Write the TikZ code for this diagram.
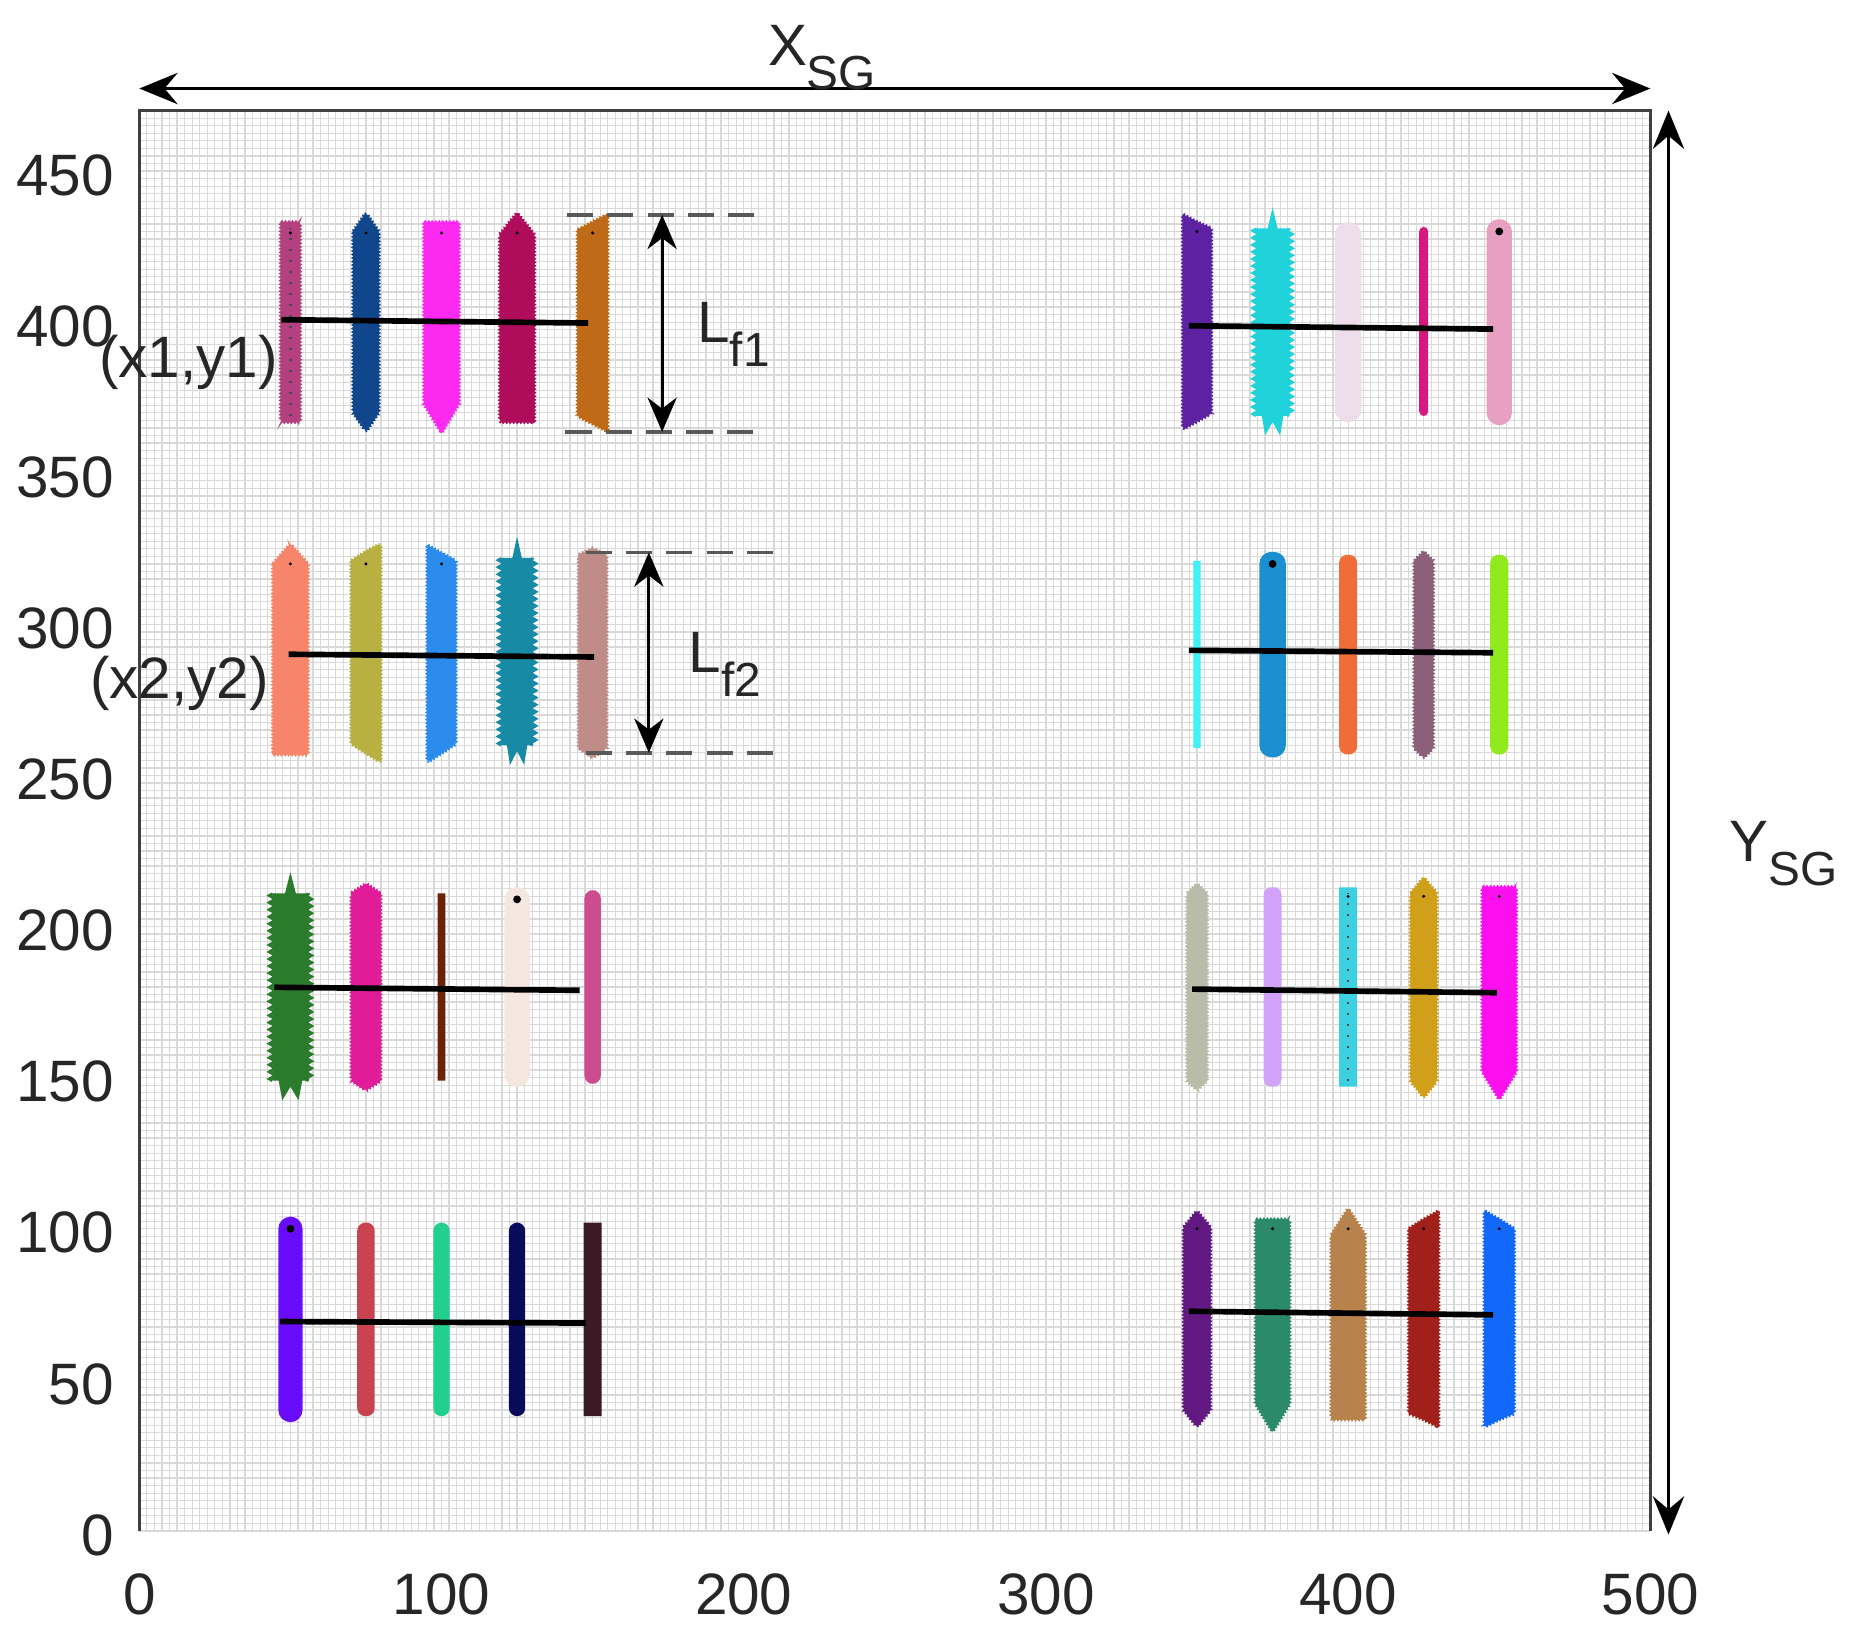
\documentclass[tikz,border=0pt]{standalone}
\usepackage{fontspec}
\setmainfont{Liberation Sans}
\usepackage{tikz}
\usetikzlibrary{arrows.meta,decorations.pathmorphing}
\tikzstyle{gridline}=[gray!30, line width=0.35pt]
\tikzstyle{frame}=[black!75, line width=0.9pt]
\tikzstyle{spanarrow}=[black, line width=1.1pt, {Stealth[length=3.8mm,width=3.1mm,inset=1.3mm]}-{Stealth[length=3.8mm,width=3.1mm,inset=1.3mm]}]
\tikzstyle{lenarrow}=[black, line width=0.8pt, {Stealth[length=3.4mm,width=2.9mm,inset=1.1mm]}-{Stealth[length=3.4mm,width=2.9mm,inset=1.1mm]}]
\tikzstyle{dimline}=[black!65, line width=1pt, dash pattern=on 2.6mm off 1.4mm]
\tikzstyle{rodline}=[black, line width=1.6pt]
\tikzstyle{jag}=[postaction={draw, line width=0.45pt, decorate, decoration={zigzag, segment length=0.35mm, amplitude=0.12mm}}]
\tikzstyle{spiky}=[line width=0.8pt, decorate, decoration={zigzag, segment length=0.7mm, amplitude=0.3mm}]
\tikzstyle{capM}=[rounded corners=1.2mm]
\tikzstyle{capS}=[rounded corners=0.8mm]
\tikzstyle{capT}=[rounded corners=0.45mm]
\tikzstyle{dotcol}=[black!70, line width=0.7pt, dash pattern=on 0.5pt off 2.6pt]
\tikzstyle{lab}=[font=\fontsize{16.5}{20}\selectfont, text=black!85, inner sep=0pt]
\newcommand{\lowsub}[1]{\raisebox{-2.4mm}{\fontsize{13.5}{14}\selectfont #1}}
% one fibre: x, half width, style, top left/mid/right, bottom left/mid/right
\newcommand{\fib}[9]{\fill[#3] ({#1-#2},#4) -- (#1,#5) -- ({#1+#2},#6) -- ({#1+#2},-#9) -- (#1,-#8) -- ({#1-#2},-#7) -- cycle;}
\newcommand{\starfib}[3]{%
  \fill[#3] ({#1-#2},31) -- ({#1-0.3*#2},31) -- (#1,38) -- ({#1+0.3*#2},31) -- ({#1+#2},31) -- ({#1+#2},-31) -- ({#1+0.65*#2},-31) -- ({#1+0.45*#2},-37.5) -- (#1,-33) -- ({#1-0.45*#2},-37.5) -- ({#1-0.65*#2},-31) -- ({#1-#2},-31) -- cycle;
  \draw[#3, spiky] ({#1-#2},-31) -- ({#1-#2},31);
  \draw[#3, spiky] ({#1+#2},-31) -- ({#1+#2},31);}
\definecolor{fibAa}{HTML}{B4407F}
\definecolor{fibAb}{HTML}{0F468C}
\definecolor{fibAc}{HTML}{FC2AF0}
\definecolor{fibAd}{HTML}{B00C5C}
\definecolor{fibAe}{HTML}{BF6A16}
\definecolor{fibBa}{HTML}{F7856A}
\definecolor{fibBb}{HTML}{B9B042}
\definecolor{fibBc}{HTML}{2B8CEE}
\definecolor{fibBd}{HTML}{178AA6}
\definecolor{fibBe}{HTML}{C08C88}
\definecolor{fibCa}{HTML}{2A7C2C}
\definecolor{fibCb}{HTML}{E01C98}
\definecolor{fibCc}{HTML}{6C2208}
\definecolor{fibCd}{HTML}{F5E6DF}
\definecolor{fibCe}{HTML}{CC4C92}
\definecolor{fibDa}{HTML}{6A0CFC}
\definecolor{fibDb}{HTML}{C8434F}
\definecolor{fibDc}{HTML}{22D08E}
\definecolor{fibDd}{HTML}{080A5A}
\definecolor{fibDe}{HTML}{3A1A24}
\definecolor{fibEa}{HTML}{5C22A2}
\definecolor{fibEb}{HTML}{20D2DA}
\definecolor{fibEc}{HTML}{EEDDEA}
\definecolor{fibEd}{HTML}{D8187E}
\definecolor{fibEe}{HTML}{E8A0C2}
\definecolor{fibFa}{HTML}{42F0F8}
\definecolor{fibFb}{HTML}{1A90D0}
\definecolor{fibFc}{HTML}{F06C38}
\definecolor{fibFd}{HTML}{8C5F7A}
\definecolor{fibFe}{HTML}{90EA1E}
\definecolor{fibGa}{HTML}{B8BCA8}
\definecolor{fibGb}{HTML}{D2A2F8}
\definecolor{fibGc}{HTML}{3CD0E0}
\definecolor{fibGd}{HTML}{D0A01A}
\definecolor{fibGe}{HTML}{FC10EE}
\definecolor{fibHa}{HTML}{621A82}
\definecolor{fibHb}{HTML}{2A8A6A}
\definecolor{fibHc}{HTML}{B8824C}
\definecolor{fibHd}{HTML}{A2201A}
\definecolor{fibHe}{HTML}{1268F8}

\begin{document}
\begin{tikzpicture}[x=0.3mm, y=0.3mm]
        \useasboundingbox (-46.1,-34.8) rectangle (566.4,506.6);
        % field
        \draw[gridline] (0,0) grid[step=2.5] (500,470);
        \draw[frame] (0,0) -- (0,470) -- (500,470) -- (500,0);
        \foreach \x in {0,100,...,500}
            \node[lab, anchor=base] (xt\x) at (\x,-27.7) {\x};
        \foreach \y in {0,50,...,450}
            \node[lab, anchor=base east] (yt\y) at (-8.2,\y-8) {\y};
        % group 1
        \begin{scope}[shift={(0,400)}]
            \fib{50}{3.1}{fibAa, jag}{33}{33}{33}{33}{33}{33}
            \draw[dotcol] (50,-31) -- (50,31);
            \fib{75}{4.1}{fibAb, jag}{30}{36}{30}{30}{36}{30}
            \fib{100}{5.7}{fibAc, jag}{33}{33}{33}{27}{36.5}{27}
            \fib{125}{5.6}{fibAd, jag}{29}{36}{29}{33}{33}{33}
            \fib{150}{4.85}{fibAe, jag}{30.5}{33}{35.5}{31}{33.5}{36}
            \foreach \x in {50,75,...,150}
                \fill (\x,29.5) circle (0.55);
        \end{scope}
        % group 2
        \begin{scope}[shift={(0,291)}]
            \fib{50}{5.7}{fibBa, jag}{29}{35.5}{29}{34}{34}{34}
            \fib{75}{4.75}{fibBb, jag}{30}{33}{35.5}{30.5}{33.5}{36.5}
            \fib{100}{4.6}{fibBc, jag}{35}{32.5}{30}{36.5}{33.5}{30.5}
            \starfib{125}{5.2}{fibBd}
            \fib{150}{4.5}{fibBe, jag}{32}{34}{32}{32}{35}{32}
            \foreach \x in {50,75,100}
                \fill (\x,29) circle (0.55);
        \end{scope}
        % group 3
        \begin{scope}[shift={(0,180)}]
            \starfib{50}{6}{fibCa}
            \fib{75}{4.7}{fibCb, jag}{31}{34}{31}{31}{34}{31}
            \fib{100}{1.3}{fibCc}{31}{31}{31}{31}{31}{31}
            \fib{125}{4.2}{fibCd, capM}{33}{33}{33}{33}{33}{33}
            \fib{150}{2.7}{fibCe, capS}{32}{32}{32}{32}{32}{32}
            \fill (125,29) circle (1.3);
        \end{scope}
        % group 4
        \begin{scope}[shift={(0,70)}]
            \fib{50}{4}{fibDa, capM}{34}{34}{34}{34}{34}{34}
            \fib{75}{2.9}{fibDb, capS}{32}{32}{32}{32}{32}{32}
            \fib{100}{2.7}{fibDc, capS}{32}{32}{32}{32}{32}{32}
            \fib{125}{2.7}{fibDd, capS}{32}{32}{32}{32}{32}{32}
            \fib{150}{3}{fibDe}{32}{32}{32}{32}{32}{32}
            \fill (50,30) circle (1.3);
        \end{scope}
        % group 5
        \begin{scope}[shift={(0,400)}]
            \fib{350}{4.6}{fibEa, jag}{35.5}{33}{31}{35.3}{32.7}{30.2}
            \starfib{375}{5.5}{fibEb}
            \fib{400}{4.4}{fibEc, capM}{33}{33}{33}{33}{33}{33}
            \fib{425}{1.5}{fibEd, capT}{31.5}{31.5}{31.5}{31}{31}{31}
            \fib{450}{4.2}{fibEe, capM}{34}{34}{34}{34}{34}{34}
            \fill (350,30) circle (0.55);
            \fill (450,30) circle (1.3);
        \end{scope}
        % group 6
        \begin{scope}[shift={(0,290)}]
            \fib{350}{1.2}{fibFa}{31}{31}{31}{31}{31}{31}
            \fib{375}{4.4}{fibFb, capM}{34}{34}{34}{34}{34}{34}
            \fib{400}{3}{fibFc, capS}{33}{33}{33}{33}{33}{33}
            \fib{425}{3}{fibFd, jag}{31}{34}{31}{31}{34}{31}
            \fib{450}{3}{fibFe, capS}{33}{33}{33}{33}{33}{33}
            \fill (375,30) circle (1.3);
        \end{scope}
        % group 7
        \begin{scope}[shift={(0,180)}]
            \fib{350}{3.2}{fibGa, jag}{31}{34}{31}{31}{34}{31}
            \fib{375}{3}{fibGb, capS}{33}{33}{33}{33}{33}{33}
            \fib{400}{3}{fibGc}{33}{33}{33}{33}{33}{33}
            \draw[dotcol] (400,-31) -- (400,31);
            \fib{425}{4.2}{fibGd, jag}{31}{36}{31}{31}{36.5}{31}
            \fib{450}{5.5}{fibGe, jag}{33}{33}{33}{28}{37}{28}
            \foreach \x in {400,425,450}
                \fill (\x,30) circle (0.55);
        \end{scope}
        % group 8
        \begin{scope}[shift={(0,70)}]
            \fib{350}{4.3}{fibHa, jag}{30.5}{35.7}{30.5}{30}{35.4}{30}
            \fib{375}{5.5}{fibHb, jag}{33}{33}{33}{28}{37}{28}
            \fib{400}{5.5}{fibHc, jag}{28}{36.5}{28}{33}{33}{33}
            \fib{425}{4.8}{fibHd, jag}{30}{33}{35.7}{31}{33}{35.4}
            \fib{450}{4.8}{fibHe, jag}{35.7}{33}{30}{35.4}{33}{31}
            \foreach \x in {350,375,...,450}
                \fill (\x,30) circle (0.55);
        \end{scope}
        % rods
        \draw[rodline] (47,400.8) -- (148.5,399.7);
        \draw[rodline] (49.4,290.1) -- (150.5,289.2);
        \draw[rodline] (44.7,179.9) -- (145.7,178.9);
        \draw[rodline] (46.6,69.3) -- (147.7,68.8);
        \draw[rodline] (347.3,398.8) -- (448,397.7);
        \draw[rodline] (347.3,291.4) -- (448,290.6);
        \draw[rodline] (348.4,179.3) -- (449.2,178.1);
        \draw[rodline] (347.3,72.7) -- (448,71.5);
        % lengths
        \draw[dimline] (141.5,435.5) -- (204,435.5);
        \draw[dimline] (141,363.7) -- (204,363.7);
        \coordinate (l1t) at (173,435.5);
        \coordinate (l1b) at (173,363.7);
        \draw[lenarrow] (l1t) -- (l1b);
        \draw[dimline] (147.7,323.8) -- (213.3,323.8);
        \draw[dimline] (147.7,257.5) -- (213.3,257.5);
        \coordinate (l2t) at (168.6,323.8);
        \coordinate (l2b) at (168.6,257.5);
        \draw[lenarrow] (l2t) -- (l2b);
        \node[lab, anchor=base west] (lf1) at (184.4,393.4) {L\lowsub{f1}};
        \node[lab, anchor=base west] (lf2) at (181.6,284) {L\lowsub{f2}};
        \node[lab, anchor=base east] (p1) at (46,381.6) {(x1,y1)};
        \node[lab, anchor=base east] (p2) at (43,275.4) {(x2,y2)};
        % extent of the field
        \coordinate (xl) at (0,477.3);
        \coordinate (xr) at (500,477.3);
        \draw[spanarrow] (xl) -- (xr);
        \coordinate (yt) at (506,470);
        \coordinate (yb) at (506,-1.2);
        \draw[spanarrow] (yt) -- (yb);
        \node[lab, anchor=base west] (xsg) at (207.8,485) {X\lowsub{SG}};
        \node[lab, anchor=base west] (ysg) at (526,221.5) {Y\lowsub{SG}};
    \end{tikzpicture}
\end{document}
